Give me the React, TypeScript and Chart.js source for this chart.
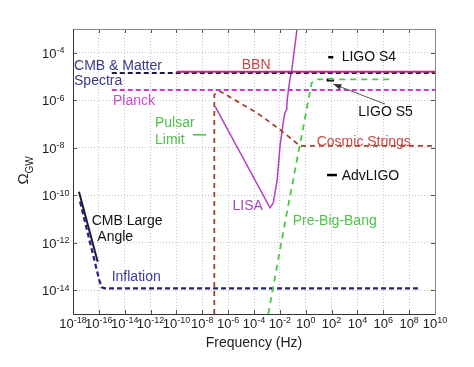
import React, { useEffect, useRef } from 'react';
import { Chart, registerables } from 'chart.js';

Chart.register(...registerables);

// ---- axis ticks (powers of ten) ----
const xTickExponents = [-18, -16, -14, -12, -10, -8, -6, -4, -2, 0, 2, 4, 6, 8, 10];
const yTickExponents = [-14, -12, -10, -8, -6, -4];

// ---- series (frequency in Hz, Omega_GW) ----
const cmbMatterFreq = [1e-15, 1e10];
const cmbMatterOmega = [1.4e-5, 1.4e-5];

const bbnFreq = [1e-10, 1e10];
const bbnOmega = [1.6e-5, 1.6e-5];

const planckFreq = [1e-15, 1e10];
const planckOmega = [2.7e-6, 2.7e-6];

const pulsarFreq = [1.9e-9, 1.95e-8];
const pulsarOmega = [3.5e-8, 3.5e-8];

const cosmicFreq = [8.5e-8, 8.5e-8, 2.3e-7, 1.6e-4, 1.0e-2, 0.36, 1e10];
const cosmicOmega = [1e-15, 1.7e-6, 2.4e-6, 3.0e-7, 5.9e-8, 1.2e-8, 1.2e-8];

const lisaFreq = [9.8e-8, 1.74e-3, 3.1e-3, 6.3e-3, 1.02e-2, 1.8e-2, 2.45e-2, 3.4e-2, 3.7e-2, 6.0e-2, 8.5e-2, 0.21, 0.24];
const lisaOmega = [5.5e-7, 2.95e-11, 4.8e-11, 4.7e-10, 1.17e-8, 1.12e-7, 2.95e-7, 4.1e-7, 1.07e-6, 7.6e-6, 2.0e-5, 9.5e-4, 1.6e-3];

const preBigBangFreq = [1.26e-3, 3.1e-2, 0.6, 2.9, 6.9, 4.3e6];
const preBigBangOmega = [1e-15, 1.32e-11, 5.9e-8, 5.5e-6, 7.6e-6, 7.6e-6];

const inflationFreq = [3.5e-18, 1.07e-16, 1.66e-16, 2.95e-16, 4.8e8];
const inflationOmega = [5.4e-11, 2.7e-14, 1.32e-14, 1.2e-14, 1.2e-14];

const cmbLargeAngleFreq = [2.9e-18, 8.1e-17];
const cmbLargeAngleOmega = [1.4e-10, 1.6e-13];

const ligoS4Freq = [55, 135];
const ligoS4Omega = [6.5e-5, 6.5e-5];

const ligoS5Freq = [42, 155];
const ligoS5Omega = [7.1e-6, 7.1e-6];

const advLigoFreq = [44, 263];
const advLigoOmega = [7.1e-10, 7.1e-10];

// arrow from "LIGO S5" label to its marker
const ligoS5ArrowFreq = [1.35e6, 135];
const ligoS5ArrowOmega = [6.9e-7, 4.8e-6];

// ---- text annotations (anchored at data coords: left edge, vertical middle) ----
const labelTexts = ['CMB & Matter', 'Spectra', 'Planck', 'Pulsar', 'Limit', 'BBN', 'LIGO S4', 'LIGO S5', 'Cosmic Strings', 'AdvLIGO', 'LISA', 'Pre-Big-Bang', 'CMB Large', 'Angle', 'Inflation'];
const labelFreq = [1.2e-18, 1.2e-18, 1.23e-15, 2.2e-12, 2.2e-12, 1.12e-5, 600, 1.17e4, 7.1, 600, 2.2e-6, 9.8e-2, 2.8e-17, 7.6e-17, 9.8e-16];
const labelOmega = [2.75e-5, 6.5e-6, 9.5e-7, 1.05e-7, 2.05e-8, 3.0e-5, 6.5e-5, 3.3e-7, 1.66e-8, 6.2e-10, 3.5e-11, 8.5e-12, 8.5e-12, 1.8e-12, 3.5e-14];
const labelColors = ['#3a3a88', '#3a3a88', '#c44cc8', '#4cc24c', '#4cc24c', '#c04848', '#111111', '#111111', '#c84848', '#111111', '#a048b8', '#4cc24c', '#111111', '#111111', '#3a3aa0'];

const pts = (xs: number[], ys: number[]) => xs.map((x, i) => ({ x, y: ys[i] }));

const FONT = "'Liberation Sans', Arial, Helvetica, sans-serif";

const decorPlugin = {
  id: 'decor',
  afterDatasetsDraw(chart: any) {
    const { ctx, chartArea: a, scales } = chart;
    const xs = scales.x;
    const ys = scales.y;
    ctx.save();

    // inner tick marks
    ctx.strokeStyle = '#555';
    ctx.lineWidth = 1;
    ctx.beginPath();
    xTickExponents.forEach((e) => {
      const px = Math.round(xs.getPixelForValue(Math.pow(10, e))) + 0.5;
      ctx.moveTo(px, a.bottom);
      ctx.lineTo(px, a.bottom - 4);
      ctx.moveTo(px, a.top);
      ctx.lineTo(px, a.top + 4);
    });
    yTickExponents.forEach((e) => {
      const py = Math.round(ys.getPixelForValue(Math.pow(10, e))) + 0.5;
      ctx.moveTo(a.left, py);
      ctx.lineTo(a.left + 4, py);
      ctx.moveTo(a.right, py);
      ctx.lineTo(a.right - 4, py);
    });
    ctx.stroke();

    // frame
    const L = Math.round(a.left) + 0.5;
    const T = Math.round(a.top) + 0.5;
    const R = Math.round(a.right) + 0.5;
    const B = Math.round(a.bottom) + 0.5;
    ctx.strokeStyle = '#888';
    ctx.beginPath();
    ctx.moveTo(L, T);
    ctx.lineTo(R, T);
    ctx.lineTo(R, B);
    ctx.stroke();
    ctx.strokeStyle = '#333';
    ctx.beginPath();
    ctx.moveTo(L, T);
    ctx.lineTo(L, B);
    ctx.lineTo(R, B);
    ctx.stroke();

    // tick labels with real superscripts
    const baseFont = `13px ${FONT}`;
    const supFont = `9px ${FONT}`;
    ctx.fillStyle = '#222';
    ctx.textBaseline = 'alphabetic';
    ctx.textAlign = 'left';
    xTickExponents.forEach((e) => {
      const px = xs.getPixelForValue(Math.pow(10, e));
      ctx.font = baseFont;
      const wb = ctx.measureText('10').width;
      ctx.font = supFont;
      const sup = String(e);
      const ws = ctx.measureText(sup).width;
      const x0 = px - (wb + ws) / 2;
      ctx.font = baseFont;
      ctx.fillText('10', x0, a.bottom + 13.5);
      ctx.font = supFont;
      ctx.fillText(sup, x0 + wb, a.bottom + 8.5);
    });
    yTickExponents.forEach((e) => {
      const py = ys.getPixelForValue(Math.pow(10, e));
      ctx.font = baseFont;
      const wb = ctx.measureText('10').width;
      ctx.fillText('10', 42, py + 5);
      ctx.font = supFont;
      ctx.fillText(String(e), 42 + wb, py + 0.5);
    });

    // arrow LIGO S5
    const x0 = xs.getPixelForValue(ligoS5ArrowFreq[0]);
    const y0 = ys.getPixelForValue(ligoS5ArrowOmega[0]);
    const x1 = xs.getPixelForValue(ligoS5ArrowFreq[1]);
    const y1 = ys.getPixelForValue(ligoS5ArrowOmega[1]);
    ctx.strokeStyle = '#555';
    ctx.fillStyle = '#333';
    ctx.lineWidth = 1;
    ctx.beginPath();
    ctx.moveTo(x0, y0);
    ctx.lineTo(x1, y1);
    ctx.stroke();
    const ang = Math.atan2(y1 - y0, x1 - x0);
    const hl = 8;
    const hw = 3;
    ctx.beginPath();
    ctx.moveTo(x1, y1);
    ctx.lineTo(x1 - hl * Math.cos(ang) + hw * Math.sin(ang), y1 - hl * Math.sin(ang) - hw * Math.cos(ang));
    ctx.lineTo(x1 - hl * Math.cos(ang) - hw * Math.sin(ang), y1 - hl * Math.sin(ang) + hw * Math.cos(ang));
    ctx.closePath();
    ctx.fill();

    // text annotations
    ctx.font = `14px ${FONT}`;
    ctx.textAlign = 'left';
    ctx.textBaseline = 'middle';
    labelTexts.forEach((t, i) => {
      ctx.fillStyle = labelColors[i];
      ctx.fillText(t, xs.getPixelForValue(labelFreq[i]), ys.getPixelForValue(labelOmega[i]));
    });

    // x axis title
    ctx.fillStyle = '#222';
    ctx.textAlign = 'center';
    ctx.fillText('Frequency (Hz)', (a.left + a.right) / 2, a.bottom + 29);

    // y axis title: Omega_GW rotated
    ctx.translate(25, (a.top + a.bottom) / 2);
    ctx.rotate(-Math.PI / 2);
    ctx.textAlign = 'left';
    ctx.textBaseline = 'alphabetic';
    ctx.font = `15px ${FONT}`;
    ctx.fillText('\u03A9', -13, 3);
    ctx.font = `10px ${FONT}`;
    ctx.fillText('GW', -2, 8);

    ctx.restore();
  },
};

const line = (label: string, xs: number[], ys: number[], color: string, width: number, dash: number[] = []) => ({
  label,
  data: pts(xs, ys),
  borderColor: color,
  backgroundColor: color,
  borderWidth: width,
  borderDash: dash,
  showLine: true,
  pointRadius: 0,
  tension: 0,
  fill: false,
});

export default function App() {
  const ref = useRef<HTMLCanvasElement | null>(null);

  useEffect(() => {
    if (!ref.current) return;
    const chart = new Chart(ref.current, {
      type: 'scatter',
      data: {
        datasets: [
          line('Planck', planckFreq, planckOmega, '#c63cc6', 2, [5, 3]),
          line('BBN', bbnFreq, bbnOmega, '#c0287a', 2),
          line('CMB & Matter Spectra', cmbMatterFreq, cmbMatterOmega, '#1e1e48', 2, [5, 3]),
          line('Cosmic Strings', cosmicFreq, cosmicOmega, '#a2442c', 1.8, [5, 4]),
          line('Pulsar Limit', pulsarFreq, pulsarOmega, '#44c044', 1.5),
          line('LISA', lisaFreq, lisaOmega, '#b042c0', 1.5),
          line('Pre-Big-Bang', preBigBangFreq, preBigBangOmega, '#48c848', 1.8, [6, 5]),
          line('Inflation', inflationFreq, inflationOmega, '#22227a', 2.2, [5, 3]),
          line('CMB Large Angle', cmbLargeAngleFreq, cmbLargeAngleOmega, '#1a1a3a', 2),
          line('LIGO S4', ligoS4Freq, ligoS4Omega, '#000000', 2.5),
          line('LIGO S5', ligoS5Freq, ligoS5Omega, '#000000', 3),
          line('AdvLIGO', advLigoFreq, advLigoOmega, '#000000', 2.5),
        ],
      },
      options: {
        animation: false,
        responsive: true,
        maintainAspectRatio: false,
        layout: { padding: { top: 29, right: 39, left: 0, bottom: 0 } },
        plugins: { legend: { display: false }, tooltip: { enabled: false } },
        events: [],
        scales: {
          x: {
            type: 'logarithmic',
            min: 1e-18,
            max: 1e10,
            afterBuildTicks: (s: any) => {
              s.ticks = xTickExponents.map((e) => ({ value: Math.pow(10, e), major: true }));
            },
            afterFit: (s: any) => {
              s.height = 53;
            },
            grid: { color: '#c4c4c4', drawTicks: false, lineWidth: 1 },
            border: { display: false, dash: [1, 2] },
            ticks: { display: false, autoSkip: false, maxRotation: 0, minRotation: 0 },
          },
          y: {
            type: 'logarithmic',
            min: 1e-15,
            max: 1e-3,
            afterBuildTicks: (s: any) => {
              s.ticks = yTickExponents.map((e) => ({ value: Math.pow(10, e), major: true }));
            },
            afterFit: (s: any) => {
              s.width = 73;
            },
            grid: { color: '#c4c4c4', drawTicks: false, lineWidth: 1 },
            border: { display: false, dash: [1, 2] },
            ticks: { display: false, autoSkip: false },
          },
        },
      },
      plugins: [decorPlugin],
    } as any);
    return () => chart.destroy();
  }, []);

  return (
    <div style={{ position: 'absolute', left: 0, top: 0, width: 474, height: 367, background: '#fff' }}>
      <canvas ref={ref} />
    </div>
  );
}
